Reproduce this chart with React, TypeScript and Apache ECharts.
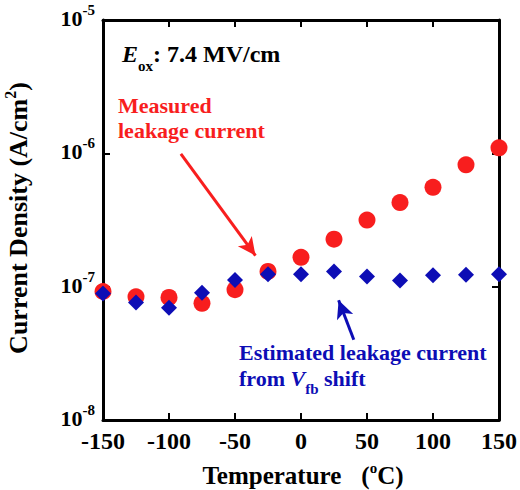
import React, { useEffect, useRef } from 'react';
import * as echarts from 'echarts';

// temperature (°C) vs current density (A/cm2)
const temperatures = [-150, -125, -100, -75, -50, -25, 0, 25, 50, 75, 100, 125, 150];
const measured = [9.2e-8, 8.4e-8, 8.3e-8, 7.5e-8, 9.5e-8, 1.3e-7, 1.66e-7, 2.27e-7, 3.16e-7, 4.27e-7, 5.56e-7, 8.2e-7, 1.1e-6];
const estimated = [8.9e-8, 7.6e-8, 6.95e-8, 9.0e-8, 1.12e-7, 1.24e-7, 1.24e-7, 1.3e-7, 1.19e-7, 1.11e-7, 1.22e-7, 1.23e-7, 1.24e-7];

const xMin = -150;
const xMax = 150;
const xStep = 50;
const yMin = 1e-8;
const yMax = 1e-5;

// annotation arrows, [tail, head] in data units
const redArrow = [[-91, 9.9e-7], [-34.5, 1.71e-7]];
const blueArrow = [[40, 4.0e-8], [28.5, 7.9e-8]];

const RED = '#f81e1e';
const BLUE = '#0d0db5';
const FONT = "'Liberation Serif', 'Times New Roman', serif";

const App: React.FC = () => {
  const chartRef = useRef<HTMLDivElement>(null);

  useEffect(() => {
    document.body.style.margin = '0';
    if (!chartRef.current) return;
    const chart = echarts.init(chartRef.current, undefined, { renderer: 'svg' });

    const axisLine = { show: true, onZero: false, lineStyle: { color: '#000', width: 3 } };
    const axisTick = { show: true, inside: true, length: 7, lineStyle: { color: '#000', width: 2 } };
    const bold = (size: number, fill: string, extra: any = {}) => ({
      fontSize: size,
      fontWeight: 'bold',
      fontFamily: FONT,
      color: fill,
      fill,
      ...extra,
    });

    const option: any = {
      animation: false,
      backgroundColor: '#fff',
      textStyle: { fontFamily: FONT },
      grid: { left: 103, top: 20, width: 400, height: 400 },
      xAxis: [
        {
          type: 'value',
          min: xMin,
          max: xMax,
          interval: xStep,
          position: 'bottom',
          axisLine,
          axisTick,
          splitLine: { show: false },
          axisLabel: { margin: 9, ...bold(24, '#000') },
        },
        {
          type: 'value',
          min: xMin,
          max: xMax,
          interval: xStep,
          position: 'top',
          axisLine,
          axisTick,
          splitLine: { show: false },
          axisLabel: { show: false },
        },
      ],
      yAxis: [
        {
          type: 'log',
          logBase: 10,
          min: yMin,
          max: yMax,
          position: 'left',
          axisLine,
          axisTick,
          minorTick: { show: false },
          splitLine: { show: false },
          axisLabel: {
            margin: 8,
            padding: [0, 0, 8, 0],
            formatter: (v: number) => `{b|10}{s|${Math.round(Math.log10(v))}}`,
            rich: {
              b: bold(22, '#000', { verticalAlign: 'bottom' }),
              s: bold(15, '#000', { verticalAlign: 'bottom', padding: [0, 0, 12, 0] }),
            },
          },
        },
        {
          type: 'log',
          logBase: 10,
          min: yMin,
          max: yMax,
          position: 'right',
          axisLine,
          axisTick,
          splitLine: { show: false },
          axisLabel: { show: false },
        },
      ],
      series: [
        {
          name: 'Measured leakage current',
          type: 'scatter',
          symbol: 'circle',
          symbolSize: 17,
          itemStyle: { color: RED, opacity: 1 },
          data: temperatures.map((t, i) => [t, measured[i]]),
          markLine: {
            silent: true,
            symbol: ['none', 'arrow'],
            symbolSize: [13, 18],
            label: { show: false },
            lineStyle: { color: RED, width: 3, type: 'solid' },
            data: [[{ coord: redArrow[0] }, { coord: redArrow[1] }]],
          },
        },
        {
          name: 'Estimated leakage current from Vfb shift',
          type: 'scatter',
          symbol: 'diamond',
          symbolSize: 16,
          itemStyle: { color: BLUE, opacity: 1 },
          data: temperatures.map((t, i) => [t, estimated[i]]),
          markLine: {
            silent: true,
            symbol: ['none', 'arrow'],
            symbolSize: [13, 18],
            label: { show: false },
            lineStyle: { color: BLUE, width: 3, type: 'solid' },
            data: [[{ coord: blueArrow[0] }, { coord: blueArrow[1] }]],
          },
        },
      ],
      graphic: [
        {
          type: 'text',
          x: 17,
          y: 218,
          rotation: Math.PI / 2,
          style: {
            text: '{t|Current Density (A/cm}{s|2}{t|)}',
            align: 'center',
            verticalAlign: 'middle',
            rich: {
              t: bold(26, '#000', { verticalAlign: 'bottom' }),
              s: bold(16, '#000', { verticalAlign: 'bottom', padding: [0, 0, 13, 0] }),
            },
          },
        },
        {
          type: 'text',
          x: 303,
          y: 488,
          style: {
            text: '{t|Temperature}{g|(}{s|o}{t|C)}',
            align: 'center',
            verticalAlign: 'bottom',
            rich: {
              t: bold(25, '#000', { verticalAlign: 'bottom' }),
              g: bold(25, '#000', { verticalAlign: 'bottom', padding: [0, 0, 0, 20] }),
              s: bold(15, '#000', { verticalAlign: 'bottom', padding: [0, 0, 13, 0] }),
            },
          },
        },
        {
          type: 'text',
          x: 122,
          y: 42,
          style: {
            text: '{i|E}{s|ox}{n|: 7.4 MV/cm}',
            verticalAlign: 'top',
            rich: {
              i: bold(24, '#000', { fontStyle: 'italic', verticalAlign: 'bottom', padding: [0, 0, 7, 0] }),
              s: bold(15, '#000', { verticalAlign: 'bottom' }),
              n: bold(24, '#000', { verticalAlign: 'bottom', padding: [0, 0, 7, 0] }),
            },
          },
        },
        {
          type: 'text',
          x: 118,
          y: 93,
          style: {
            text: 'Measured\nleakage current',
            verticalAlign: 'top',
            lineHeight: 25,
            ...bold(22, RED),
          },
        },
        {
          type: 'text',
          x: 239,
          y: 352,
          style: {
            text: 'Estimated leakage current',
            verticalAlign: 'middle',
            ...bold(22, BLUE),
          },
        },
        {
          type: 'text',
          x: 239,
          y: 367,
          style: {
            text: '{n|from }{i|V}{s|fb}{n| shift}',
            verticalAlign: 'top',
            rich: {
              n: bold(22, BLUE, { verticalAlign: 'bottom', padding: [0, 0, 7, 0] }),
              i: bold(22, BLUE, { fontStyle: 'italic', verticalAlign: 'bottom', padding: [0, 0, 7, 0] }),
              s: bold(15, BLUE, { verticalAlign: 'bottom' }),
            },
          },
        },
      ],
    };

    chart.setOption(option);
    return () => {
      chart.dispose();
    };
  }, []);

  return <div ref={chartRef} style={{ width: 520, height: 490 }} />;
};

export default App;
